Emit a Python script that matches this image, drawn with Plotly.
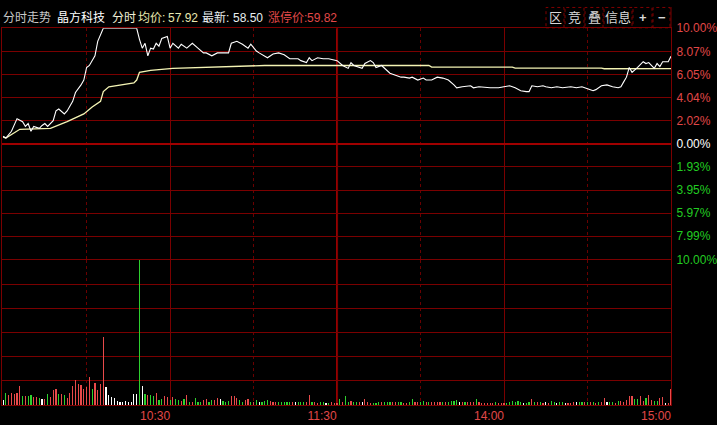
import plotly.graph_objects as go

# ---------------- data ----------------
# price line: minute index (0 = 09:30, 120 = 11:30/13:00, 240 = 15:00) and % change vs prev close
price_min = [0, 1, 3, 5, 7, 8, 9, 10, 11, 13, 14, 15, 16, 18, 19, 20, 22, 23, 25, 26, 28, 29, 30, 31, 33, 34,
             36, 48, 49, 50, 51, 52, 53, 54, 55, 56, 57, 59, 60, 61, 63, 64, 66, 68, 70, 72, 73, 75, 77, 79,
             81, 82, 84, 86, 88, 89, 91, 92, 95, 97, 99, 101, 103, 106, 107, 109, 110, 111, 113, 115, 117,
             120, 122, 124, 125, 126, 128, 129, 130, 132, 133, 134, 136, 137, 139, 141, 143, 144, 146, 147,
             149, 151, 152, 154, 156, 158, 160, 162, 163, 165, 168, 169, 171, 175, 178, 180, 182, 184, 186,
             188, 189, 190, 192, 194, 195, 197, 199, 201, 204, 206, 208, 210, 212, 213, 215, 217, 219, 221,
             222, 223, 224, 225, 226, 228, 230, 231, 232, 234, 235, 236, 237, 239, 240]
price_pct = [0.67, 0.50, 1.09, 2.18, 1.92, 1.51, 1.76, 1.09, 1.51, 1.34, 1.59, 1.76, 1.51, 2.01, 2.85, 3.01,
             2.59, 2.85, 3.68, 4.44, 5.10, 5.52, 6.61, 6.78, 7.62, 8.87,
             10.0, 10.0, 9.04, 8.28, 8.70, 7.62, 8.28, 8.20, 8.70, 8.45, 9.12, 9.29, 8.28, 8.70, 8.28, 8.62,
             8.28, 8.70, 8.28, 7.87, 7.87, 7.62, 7.87, 7.87, 7.87, 8.70, 8.87, 8.62, 8.28, 8.62, 8.03, 7.87,
             7.45, 7.78, 7.87, 7.70, 7.36, 7.36, 7.20, 7.03, 7.45, 7.20, 7.45, 7.36, 7.36,
             7.20, 6.78, 6.53, 7.03, 6.78, 6.61, 6.53, 6.95, 7.20, 7.03, 6.61, 6.78, 6.53, 6.11, 5.94, 5.77,
             5.77, 5.69, 5.77, 5.52, 5.69, 5.52, 5.52, 5.77, 5.69, 5.52, 5.10, 4.85, 4.94, 5.02, 4.85, 4.94,
             4.85, 4.85, 4.94, 5.02, 4.85, 4.60, 4.52, 4.52, 5.02, 4.94, 5.02, 4.94, 4.85, 4.94, 4.85, 4.94,
             4.85, 4.94, 4.77, 4.60, 4.69, 5.02, 5.10, 4.94, 4.85, 4.94, 5.36, 5.77, 6.61, 6.19, 6.61, 7.11,
             6.95, 7.03, 6.53, 6.95, 6.69, 7.11, 7.11, 7.57]

avg_min = [0, 1, 6, 17, 23, 29, 32, 35, 36, 38, 47, 48, 49, 53, 61, 85, 94, 153, 154, 183, 184, 215, 216, 240]
avg_pct = [0.59, 0.50, 1.26, 1.34, 1.92, 2.59, 3.18, 3.68, 4.52, 4.94, 5.27, 5.52, 6.19, 6.36, 6.53, 6.69,
           6.78, 6.78, 6.64, 6.64, 6.55, 6.55, 6.50, 6.51]

# volume per minute (241 bars) and direction: r = up, g = down, w = unchanged
volume = [5, 12.7, 10.7, 12.7, 11.7, 12.7, 20, 9, 9, 9, 10, 7.7, 7.7, 6.7, 5.7, 5.7, 11.7, 7.7, 15.7, 16.7,
          11.7, 11.7, 10, 6.7, 12.7, 19.3, 25.7, 21.7, 20.7, 16.7, 18.3, 29, 16.7, 22.7, 15, 21.7, 70, 19, 10,
          7.7, 6.7, 4, 2.7, 2.7, 4, 3.3, 2.7, 11.7, 11.7, 150, 20, 11.7, 10.7, 10, 9, 12.7, 5, 5.7, 9, 8.3, 5,
          8.3, 5.7, 5, 4.3, 5.7, 10, 2.7, 2.7, 6.7, 2.7, 2.7, 5, 5.7, 3.3, 5, 5, 6.7, 5.7, 4, 3.3, 4, 9, 9,
          6.7, 5,
          3.3, 5, 5.7, 2.7, 3.3, 5, 2.7, 2.7, 4, 5, 4.3, 2.7, 2.7, 3.3, 3.3, 2.7, 2.7, 2.7, 2.7, 3.3, 2.7,
          2.7, 3.3, 2.7, 10, 2.7, 3.3, 1.7, 2.7, 2.7, 1.7, 1.7, 2.7, 1.7, 1.7,
          5.7, 2.7, 9, 3.3, 4.3, 3.3, 2.7, 2.7, 3.3, 5.7, 3.3, 1.7, 1.7, 1.7, 2.7, 2.7, 2.7, 2.7, 3.3, 2.7,
          2.7, 2.7, 3.3, 1.7, 1.7, 3.3, 5.7, 3.3, 2.7, 3.3, 4.3, 2.7, 2.7, 2.7, 3.3, 2.7, 2.7, 2.7, 2.7, 3.3,
          4.3, 4.3, 5, 3.3, 2.7, 2.7, 2.7, 2.7, 3.3, 5.7, 2.7,
          2, 2, 2, 2, 2, 2.7, 2, 2, 2, 2, 2.7, 4.3, 3.3, 4.3, 2.7, 2, 2, 3.3, 5.7, 2.7,
          2.7, 3.3, 2, 2.7, 2, 4, 2.7, 2, 2.7, 2.7, 2, 2, 2, 2.7, 2.7, 2.7, 2.7, 2.7, 2.7, 2.7,
          2.7, 2, 2.7, 2.7, 6.7, 3.3, 2.7, 2.7, 2, 4.3, 4.3, 3.3, 5, 9, 9, 5.7, 5.7, 9, 4.3, 6.7,
          10, 5, 4.3, 4.3, 6.7, 7.7, 2, 2, 16.7]
direction = list(
    "wgrrrrrgrggrrgwrgrrrgrgrrrrrrrrrgrrrr" "wwwwwwwwwwww" "gwgrggrggrrg"
    "rggrgrgrgggrrggrrwgggrrrg"
    "grrgrgwgggrrrgggggrwgggrrgrrggwgrrr"
    "grggrggrwrrrgggrggg" "rrggrrggrrggrgrrrrgrggggwrgrrrgr"
    "rrrrrgrrrggggggwggrg" "rgrwrggwggwrrrwggrgr" "grgrrwggrgrrrrrggrrg" "rrggrrwrr"
)

time_ticks = [60, 120, 180, 240]
time_labels = ["10:30", "11:30", "14:00", "15:00"]
half_hours = [30, 90, 150, 210]

pct_ticks = [-10, -8, -6, -4, -2, 0, 2, 4, 6, 8, 10]
pct_labels = ["10.00%", "7.99%", "5.97%", "3.95%", "1.93%", "0.00%", "2.02%", "4.04%", "6.05%", "8.07%", "10.00%"]

# ---------------- styling ----------------
W, H = 717, 425
GRID = "#7a0000"
BRIGHT = "#a00000"
RED = "#e04848"
GREEN = "#22cc22"
WHITE = "#ffffff"
YEL = "#f4f4b4"
FONT = "Liberation Sans, Arial, Noto Sans CJK SC, sans-serif"

colmap = {"r": "#e84a4a", "g": "#2ed02e", "w": "#ffffff"}
bar_colors = [colmap[d] for d in direction]


def px_x(p):
    return p / W


def px_y(p):
    return 1 - p / H


def lbl_color(v):
    return WHITE if v == 0 else (RED if v > 0 else GREEN)


ytext = ['<span style="color:%s">%s</span>' % (lbl_color(v), t) for v, t in zip(pct_ticks, pct_labels)]

fig = go.Figure()
fig.add_trace(go.Scatter(x=avg_min, y=avg_pct, mode="lines", line=dict(color=YEL, width=1.3),
                         xaxis="x", yaxis="y", hoverinfo="skip"))
fig.add_trace(go.Scatter(x=price_min, y=price_pct, mode="lines", line=dict(color=WHITE, width=1.1),
                         xaxis="x", yaxis="y", hoverinfo="skip"))
fig.add_trace(go.Bar(x=list(range(len(volume))), y=volume, marker=dict(color=bar_colors, line=dict(width=0)),
                     width=0.42, xaxis="x2", yaxis="y2", hoverinfo="skip"))

xdom = [px_x(2), px_x(671)]
common_x = dict(domain=xdom, range=[-0.4, 240], tickvals=time_ticks, showgrid=True, gridcolor=GRID,
                gridwidth=1, zeroline=False, ticks="", showline=True, linecolor=GRID, mirror=True,
                minor=dict(tickvals=half_hours, showgrid=True, gridcolor="#6a0000", griddash="dot", gridwidth=1))

fig.update_layout(
    width=W, height=H, margin=dict(l=0, r=0, t=0, b=0),
    paper_bgcolor="black", plot_bgcolor="black", showlegend=False,
    font=dict(family=FONT, size=12, color=WHITE),
    xaxis=dict(anchor="y", showticklabels=False, **common_x),
    xaxis2=dict(anchor="y2", matches="x", showticklabels=True, ticktext=time_labels,
                tickfont=dict(color=RED, size=12, family=FONT), ticklabelshift=-15, ticklabelstandoff=0,
                **common_x),
    yaxis=dict(domain=[px_y(261), px_y(22)], range=[-10, 10], side="right", tickvals=pct_ticks,
               ticktext=ytext, showgrid=True, gridcolor=GRID, zeroline=True, zerolinecolor=BRIGHT,
               zerolinewidth=2, ticks="", ticklabelstandoff=2, showline=True, linecolor=GRID, mirror=True,
               tickfont=dict(size=12, family=FONT), anchor="x"),
    yaxis2=dict(domain=[px_y(411.5), px_y(261.5)], range=[0, 150], dtick=25, showticklabels=False,
                showgrid=True, gridcolor=GRID, zeroline=False, showline=True, linecolor=GRID, mirror=True,
                anchor="x2"),
    bargap=0,
)

# bright 11:30 divider through both panels
for yr in ("y domain", "y2 domain"):
    fig.add_shape(type="line", xref="x", yref=yr, x0=120, x1=120, y0=0, y1=1,
                  line=dict(color=BRIGHT, width=2), layer="below")

# right border extended to the top
fig.add_shape(type="line", xref="paper", yref="paper", x0=px_x(671), x1=px_x(671), y0=px_y(22), y1=1,
              line=dict(color=GRID, width=1))

# header texts
header = [
    (3, "分时走势", "#c8c8c8"),
    (57, "晶方科技", "#ffffff"),
    (112, "分时", "#f0f0d8"),
    (138, "均价:", "#e8e8b0"),
    (168, "57.92", "#e8e8b0"),
    (202, "最新:", "#e8eef0"),
    (233, "58.50", "#e8eef0"),
    (268, "涨停价:", RED),
    (307, "59.82", RED),
]
for xp, txt, col in header:
    fig.add_annotation(x=px_x(xp), y=px_y(11), xref="paper", yref="paper", text=txt, showarrow=False,
                       xanchor="left", yanchor="middle", xshift=-2,
                       font=dict(color=col, size=12, family=FONT))

# buttons
buttons = [(546, 564, "区"), (565, 584, "竞"), (585, 603, "叠"), (604, 632, "信息"), (633, 652, "<b>+</b>"),
           (653, 670, "<b>−</b>")]
for x0, x1, txt in buttons:
    fig.add_shape(type="rect", xref="paper", yref="paper", x0=px_x(x0), x1=px_x(x1), y0=px_y(21.5), y1=px_y(0.5),
                  line=dict(color="#800000", width=1, dash="dot"))
    fig.add_annotation(x=px_x((x0 + x1) / 2), y=px_y(11), xref="paper", yref="paper", text=txt, showarrow=False,
                       xanchor="center", yanchor="middle", font=dict(color="#d8d8d8", size=13, family=FONT))

fig.write_html("out.html", config={"displayModeBar": False, "staticPlot": True},
               post_script="document.body.style.margin='0';document.body.style.padding='0';"
                           "document.body.style.overflow='hidden';"
                           "document.querySelectorAll('.bars path').forEach(function(p){"
                           "p.style.shapeRendering='crispEdges';p.style.opacity='1';});")
